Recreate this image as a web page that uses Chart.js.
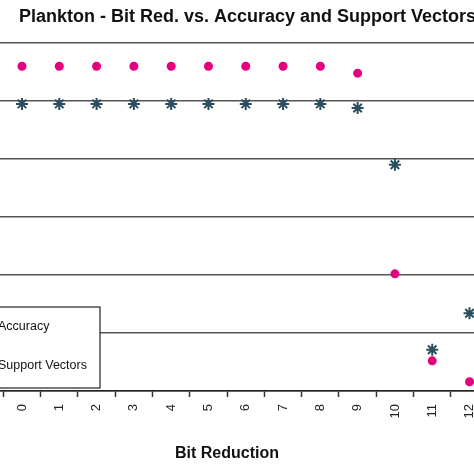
<!DOCTYPE html>
<html>
<head>
<meta charset="utf-8">
<script src="https://cdn.jsdelivr.net/npm/chart.js@4"></script>
<style>
  html, body { margin: 0; padding: 0; background: #fff; }
  #wrap { width: 474px; height: 474px; }
</style>
</head>
<body>
<div id="wrap"><canvas id="bitChart"></canvas></div>
<script>
// Bit reduction steps on the x axis
const bitReduction = [0, 1, 2, 3, 4, 5, 6, 7, 8, 9, 10, 11, 12];
// Values, in units of the plot's grid rows (0 = axis, 6 = top line)
const accuracy = [5.6, 5.6, 5.6, 5.6, 5.6, 5.6, 5.6, 5.6, 5.6, 5.48, 2.02, 0.52, 0.16];
const supportVectors = [4.95, 4.95, 4.95, 4.95, 4.95, 4.95, 4.95, 4.95, 4.95, 4.88, 3.9, 0.71, 1.34];

const titleText = 'Plankton - Bit Red. vs. Accuracy and Support Vectors';
const xTitleText = 'Bit Reduction';
const legendLabels = ['Accuracy', 'Support Vectors'];

const pink = '#e5007d';
const slate = '#2b4e5f';

function toPoints(values) {
    return bitReduction.map((b, i) => ({ x: b, y: values[i] }));
}

// Title, axis title and the boxed legend sit where R put them, so draw them by hand
const decorations = {
    id: 'decorations',
    afterDraw(chart) {
        const c = chart.ctx;
        c.save();
        c.fillStyle = '#111';
        c.font = 'bold 18px "Liberation Sans", Arial, sans-serif';
        c.textBaseline = 'alphabetic';
        c.textAlign = 'left';
        c.fillText(titleText, 19, 22);

        c.font = 'bold 16px "Liberation Sans", Arial, sans-serif';
        c.textAlign = 'center';
        c.textBaseline = 'middle';
        c.fillText(xTitleText, 227, 454);

        // legend box (left part falls off the picture, like the reference)
        c.fillStyle = '#fff';
        c.fillRect(-5, 307, 105, 81);
        c.strokeStyle = '#222';
        c.lineWidth = 1.2;
        c.strokeRect(-5, 307, 105, 81);
        c.fillStyle = '#111';
        c.font = '12.5px "Liberation Sans", Arial, sans-serif';
        c.textAlign = 'left';
        c.fillText(legendLabels[0], -2, 327);
        c.fillText(legendLabels[1], -2, 366);
        c.restore();
    }
};

const ctx = document.getElementById('bitChart');

new Chart(ctx, {
    type: 'scatter',
    data: {
        datasets: [
            {
                label: legendLabels[0],
                data: toPoints(accuracy),
                pointStyle: 'circle',
                pointRadius: 4.5,
                backgroundColor: pink,
                borderColor: pink,
                borderWidth: 0
            },
            {
                label: legendLabels[1],
                data: toPoints(supportVectors),
                pointStyle: 'star',
                pointRadius: 6,
                backgroundColor: slate,
                borderColor: slate,
                borderWidth: 2
            }
        ]
    },
    options: {
        responsive: true,
        maintainAspectRatio: false,
        animation: false,
        layout: {
            autoPadding: false,
            padding: { top: 43, left: 0, right: 0, bottom: 0 }
        },
        plugins: {
            legend: { display: false },
            title: { display: false },
            tooltip: { enabled: false }
        },
        scales: {
            x: {
                type: 'linear',
                min: -0.59,
                max: 12.12,
                afterBuildTicks: scale => {
                    scale.ticks = bitReduction.map(v => ({ value: v }));
                },
                afterFit: scale => {
                    scale.height = 83;
                    scale.paddingLeft = 0;
                    scale.paddingRight = 0;
                },
                ticks: {
                    minRotation: 90,
                    maxRotation: 90,
                    autoSkip: false,
                    padding: 7,
                    color: '#222',
                    font: { family: '"Liberation Sans", Arial, sans-serif', size: 13 },
                    callback: v => String(v)
                },
                grid: {
                    offset: true,
                    drawOnChartArea: false,
                    drawTicks: true,
                    tickLength: 6,
                    tickColor: '#333',
                    tickWidth: 1.5
                },
                border: { display: true, color: '#222', width: 1.5 }
            },
            y: {
                min: 0,
                max: 6,
                afterFit: scale => {
                    scale.width = 0;
                    scale.paddingTop = 0;
                    scale.paddingBottom = 0;
                },
                ticks: { display: false, stepSize: 1 },
                grid: {
                    color: '#555',
                    lineWidth: 1.6,
                    drawTicks: false
                },
                border: { display: false }
            }
        }
    },
    plugins: [decorations]
});
</script>
</body>
</html>
